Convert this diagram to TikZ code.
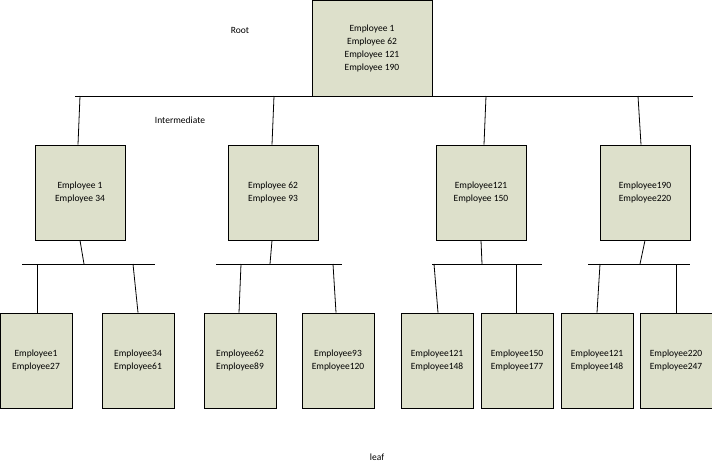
\documentclass[tikz,border=0pt]{standalone}
\usepackage{fontspec}
\setmainfont{Carlito}
\begin{document}
\begin{tikzpicture}[x=1pt,y=-1pt,
  box/.style={draw=black,fill=boxc,line width=0.8pt,align=center,font=\fontsize{9.5}{13}\selectfont,inner sep=0pt},
  lbl/.style={font=\fontsize{9.5}{12}\selectfont},
  ln/.style={draw=black,line width=0.8pt}]
\definecolor{boxc}{HTML}{DDE0CB}
\useasboundingbox (0,0) rectangle (712,464);
\node[box,minimum width=120pt,minimum height=96pt] (root) at (372,48) {Employee 1\\Employee 62\\Employee 121\\Employee 190};
\foreach \n/\x/\t in {i1/80/{Employee 1\\Employee 34},i2/273/{Employee 62\\Employee 93},i3/481/{Employee121\\Employee 150},i4/645/{Employee190\\Employee220}}
  \node[box,minimum width=90pt,minimum height=95pt] (\n) at (\x,192.5) {\t};
\foreach \n/\x/\t in {l1/36/{Employee1\\Employee27},l2/138/{Employee34\\Employee61},l3/240/{Employee62\\Employee89},l4/338/{Employee93\\Employee120},l5/437/{Employee121\\Employee148},l6/517/{Employee150\\Employee177},l7/597/{Employee121\\Employee148},l8/676/{Employee220\\Employee247}}
  \node[box,minimum width=72pt,minimum height=95pt] (\n) at (\x,360.5) {\t};
\node[lbl] (troot) at (240,30) {Root};
\node[lbl] (tint) at (180,120) {Intermediate};
\node[lbl] (tleaf) at (377,457) {leaf};
% top bar
\coordinate (b0a) at (75,96); \coordinate (b0b) at (693,96);
\draw[ln] (b0a) -- (b0b);
\foreach \xa/\xb/\n in {80/78/i1,274/272/i2,486/484/i3,638/641/i4}{
  \coordinate (t\n) at (\xa,96);
  \draw[ln] (t\n) -- (\n.north -| \xb,0);}
% lower bars
\foreach \a/\b/\yy in {22/155/1,216/342/2,432/542/3,588/690/4}{
  \coordinate (ba\yy) at (\a,264); \coordinate (bb\yy) at (\b,264);
  \draw[ln] (ba\yy) -- (bb\yy);}
\foreach \n/\xa/\xb in {i1/80/84,i2/272/270,i3/481/482,i4/645/640}{
  \coordinate (m\n) at (\xb,264);
  \draw[ln] (\n.south -| \xa,0) -- (m\n);}
\foreach \n/\xa/\xb in {l1/37/37,l2/133/138,l3/241/239,l4/333/336,l5/434/438,l6/516/516,l7/600/597,l8/676/676}{
  \coordinate (c\n) at (\xa,264);
  \draw[ln] (c\n) -- (\n.north -| \xb,0);}
\end{tikzpicture}
\end{document}
